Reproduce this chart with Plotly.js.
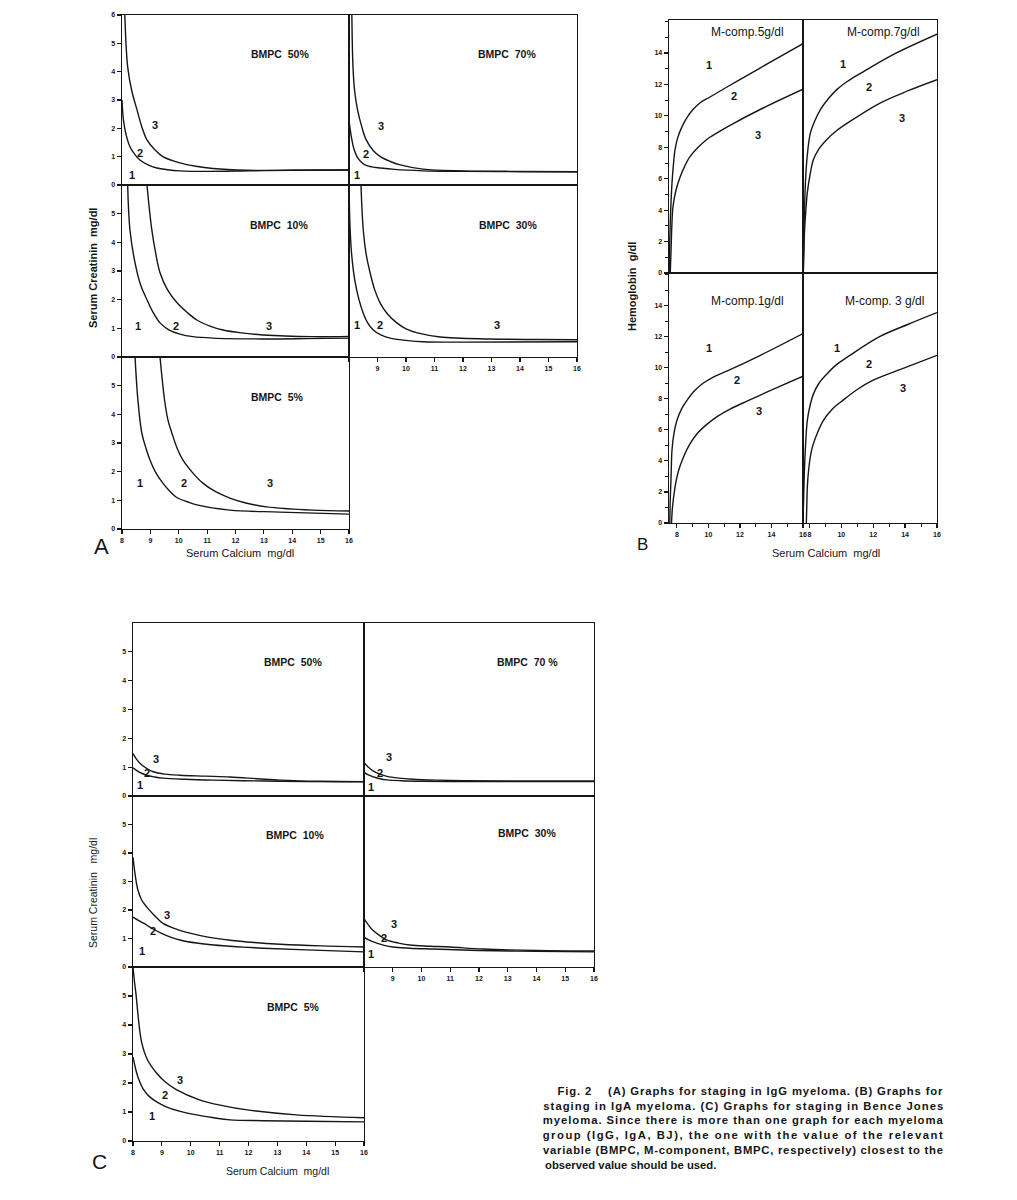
<!DOCTYPE html>
<html>
<head>
<meta charset="utf-8">
<script src="https://cdn.plot.ly/plotly-3.0.1.min.js"></script>
<style>html,body{margin:0;padding:0;background:#fff}#chart{width:1017px;height:1200px}</style>
</head>
<body>
<div id="chart"></div>
<script>
// ---------------- DATA ----------------
// Panel A (IgG myeloma): serum creatinin vs serum calcium, stage boundaries
const A50_b12_x = [8.0, 8.05, 8.15, 8.28, 8.45, 8.63, 8.9, 9.23, 9.6, 10.04, 11, 12.5, 14, 16];
const A50_b12_y = [3.0, 2.3, 1.75, 1.35, 1.08, 0.88, 0.72, 0.6, 0.54, 0.5, 0.48, 0.5, 0.52, 0.53];
const A50_b23_x = [8.1, 8.2, 8.35, 8.53, 8.7, 8.88, 9.15, 9.44, 10.04, 10.6, 11.2, 12.4, 14, 16];
const A50_b23_y = [6.0, 4.17, 3.3, 2.65, 2.05, 1.59, 1.25, 1.0, 0.78, 0.66, 0.58, 0.52, 0.52, 0.53];

const A70_b12_x = [8.0, 8.05, 8.1, 8.18, 8.28, 8.4, 8.56, 8.8, 9.1, 9.6, 10.6, 12, 14, 16];
const A70_b12_y = [2.3, 1.9, 1.6, 1.25, 1.0, 0.84, 0.71, 0.64, 0.6, 0.55, 0.5, 0.48, 0.47, 0.47];
const A70_b23_x = [8.1, 8.14, 8.2, 8.3, 8.45, 8.6, 8.85, 9.1, 9.45, 9.8, 10.6, 12, 14, 16];
const A70_b23_y = [6.0, 4.17, 3.3, 2.65, 2.05, 1.6, 1.22, 1.0, 0.83, 0.71, 0.56, 0.5, 0.48, 0.47];

const A10_b12_x = [8.2, 8.28, 8.46, 8.66, 8.88, 9.1, 9.34, 9.65, 10.04, 10.5, 11.2, 12.96, 14.5, 16];
const A10_b12_y = [6.0, 4.44, 3.28, 2.5, 2.0, 1.55, 1.19, 0.95, 0.8, 0.71, 0.66, 0.63, 0.64, 0.66];
const A10_b23_x = [8.88, 9.05, 9.2, 9.34, 9.6, 9.94, 10.3, 10.64, 11.1, 11.56, 12.2, 12.96, 14.7, 16];
const A10_b23_y = [6.0, 4.44, 3.55, 2.94, 2.35, 1.89, 1.55, 1.29, 1.08, 0.94, 0.84, 0.77, 0.71, 0.72];

const A30_b12_x = [8.0, 8.04, 8.1, 8.2, 8.35, 8.5, 8.65, 8.85, 9.1, 9.44, 10.0, 10.6, 12, 16];
const A30_b12_y = [6.0, 4.44, 3.5, 2.7, 2.0, 1.53, 1.2, 0.94, 0.78, 0.66, 0.58, 0.53, 0.52, 0.53];
const A30_b23_x = [8.42, 8.5, 8.6, 8.74, 8.9, 9.09, 9.35, 9.68, 10.0, 10.4, 11.2, 12.95, 14.5, 16];
const A30_b23_y = [6.0, 4.44, 3.6, 2.94, 2.35, 1.89, 1.5, 1.19, 0.98, 0.84, 0.7, 0.63, 0.61, 0.6];

const A5_b12_x = [8.46, 8.56, 8.7, 8.85, 8.99, 9.2, 9.44, 9.7, 9.93, 10.3, 10.64, 11.8, 13.56, 16];
const A5_b12_y = [6.0, 4.5, 3.34, 2.8, 2.4, 1.95, 1.6, 1.3, 1.1, 0.95, 0.84, 0.66, 0.59, 0.52];
const A5_b23_x = [9.34, 9.5, 9.62, 9.76, 9.95, 10.15, 10.5, 10.85, 11.3, 11.8, 12.4, 13.1, 14.7, 16];
const A5_b23_y = [6.0, 4.5, 3.8, 3.34, 2.8, 2.4, 1.95, 1.6, 1.3, 1.08, 0.9, 0.77, 0.66, 0.63];

// Panel B (IgA myeloma): hemoglobin vs serum calcium
const B5_b12_x = [7.52, 7.56, 7.62, 7.69, 7.78, 7.88, 8.05, 8.32, 8.65, 9.02, 9.5, 10.1, 11.8, 13.9, 16];
const B5_b12_y = [0, 2.55, 4.3, 5.73, 6.9, 7.83, 8.6, 9.3, 9.9, 10.4, 10.85, 11.2, 12.2, 13.4, 14.6];
const B5_b23_x = [7.58, 7.63, 7.68, 7.75, 7.95, 8.2, 8.5, 8.83, 9.3, 9.9, 10.6, 11.37, 13.47, 16];
const B5_b23_y = [0, 1.46, 3.0, 4.2, 5.3, 6.1, 6.8, 7.4, 7.95, 8.5, 8.95, 9.4, 10.5, 11.7];

const B7_b12_x = [7.6, 7.65, 7.7, 7.76, 7.86, 8.06, 8.35, 8.69, 9.2, 9.75, 10.4, 11.2, 13.25, 16];
const B7_b12_y = [0, 2.5, 4.2, 5.9, 7.4, 8.9, 9.7, 10.4, 11.1, 11.7, 12.2, 12.7, 13.9, 15.2];
const B7_b23_x = [7.62, 7.66, 7.69, 7.78, 7.87, 8.05, 8.25, 8.6, 9.1, 9.7, 10.4, 12.4, 14.2, 16];
const B7_b23_y = [0, 1.3, 2.55, 4.0, 5.1, 6.3, 7.2, 7.9, 8.5, 9.05, 9.55, 10.8, 11.6, 12.3];

const B1_b12_x = [7.55, 7.58, 7.63, 7.69, 7.82, 8.0, 8.3, 8.64, 9.1, 9.66, 10.4, 11.2, 13.3, 16];
const B1_b12_y = [0, 1.5, 2.95, 4.7, 5.8, 6.6, 7.35, 7.9, 8.5, 9.0, 9.45, 9.8, 10.8, 12.2];
const B1_b23_x = [7.66, 7.72, 7.88, 8.1, 8.4, 8.8, 9.28, 9.9, 10.55, 11.4, 12.45, 14.2, 16];
const B1_b23_y = [0, 1.0, 2.3, 3.35, 4.2, 5.05, 5.75, 6.35, 6.85, 7.35, 7.85, 8.65, 9.45];

const B3_b12_x = [7.6, 7.64, 7.69, 7.76, 7.87, 8.05, 8.25, 8.6, 9.1, 9.7, 10.4, 12.4, 14.2, 16];
const B3_b12_y = [0, 1.6, 3.4, 5.0, 6.6, 7.6, 8.3, 9.0, 9.6, 10.2, 10.7, 12.0, 12.8, 13.55];
const B3_b23_x = [7.81, 7.84, 7.87, 7.95, 8.05, 8.19, 8.5, 8.87, 9.4, 10.1, 11, 12, 14, 16];
const B3_b23_y = [0, 1.2, 2.3, 3.4, 4.2, 4.9, 5.8, 6.6, 7.3, 7.9, 8.6, 9.2, 10.0, 10.8];

// Panel C (Bence Jones myeloma): serum creatinin vs serum calcium
const C50_b12_x = [8.0, 8.2, 8.48, 8.75, 9.04, 9.8, 10.8, 12.5, 14, 16];
const C50_b12_y = [0.98, 0.84, 0.72, 0.66, 0.62, 0.58, 0.55, 0.52, 0.5, 0.49];
const C50_b23_x = [8.0, 8.12, 8.24, 8.45, 8.7, 9.1, 9.63, 10.5, 11.36, 12.3, 13.1, 14.5, 16];
const C50_b23_y = [1.47, 1.28, 1.14, 0.97, 0.84, 0.76, 0.72, 0.69, 0.66, 0.6, 0.55, 0.51, 0.5];

const C70_b12_x = [8.0, 8.15, 8.3, 8.55, 8.8, 9.3, 10, 11, 13, 16];
const C70_b12_y = [0.82, 0.73, 0.67, 0.6, 0.56, 0.53, 0.51, 0.5, 0.5, 0.5];
const C70_b23_x = [8.0, 8.15, 8.3, 8.55, 8.8, 9.2, 9.7, 10.5, 11.5, 13, 16];
const C70_b23_y = [1.15, 1.0, 0.88, 0.76, 0.68, 0.62, 0.58, 0.55, 0.53, 0.52, 0.52];

const C10_b12_x = [8.0, 8.2, 8.38, 8.65, 8.97, 9.3, 9.66, 10.2, 10.8, 11.6, 12.5, 14, 16];
const C10_b12_y = [1.75, 1.63, 1.53, 1.36, 1.19, 1.05, 0.94, 0.84, 0.77, 0.71, 0.66, 0.6, 0.53];
const C10_b23_x = [8.0, 8.08, 8.17, 8.3, 8.48, 8.75, 9.04, 9.5, 9.97, 10.6, 11.36, 12.2, 13.1, 14.5, 16];
const C10_b23_y = [3.85, 3.2, 2.7, 2.35, 2.1, 1.8, 1.53, 1.33, 1.19, 1.05, 0.94, 0.86, 0.8, 0.74, 0.7];

const C30_b12_x = [8.0, 8.2, 8.44, 8.7, 9.0, 9.6, 10.4, 12, 14, 16];
const C30_b12_y = [1.05, 0.93, 0.84, 0.76, 0.7, 0.66, 0.63, 0.58, 0.55, 0.53];
const C30_b23_x = [8.0, 8.15, 8.3, 8.55, 8.8, 9.2, 9.6, 10.3, 11, 12.15, 14, 16];
const C30_b23_y = [1.7, 1.48, 1.3, 1.1, 0.94, 0.84, 0.77, 0.73, 0.7, 0.63, 0.58, 0.56];

const C5_b12_x = [8.0, 8.1, 8.2, 8.35, 8.57, 8.85, 9.15, 9.6, 10.2, 10.8, 11.36, 12.5, 14, 16];
const C5_b12_y = [2.9, 2.45, 2.12, 1.8, 1.53, 1.33, 1.18, 1.03, 0.9, 0.8, 0.73, 0.7, 0.68, 0.66];
const C5_b23_x = [8.0, 8.05, 8.1, 8.2, 8.3, 8.5, 8.8, 9.1, 9.5, 10.3, 11.1, 11.9, 13.66, 16];
const C5_b23_y = [6.0, 5.5, 5.1, 4.1, 3.4, 2.8, 2.36, 2.05, 1.77, 1.42, 1.22, 1.08, 0.9, 0.8];

// Tick values / labels
const creatTicksTop = [0, 1, 2, 3, 4, 5, 6];
const creatTicks = [0, 1, 2, 3, 4, 5];
const calciumTicks = [8, 9, 10, 11, 12, 13, 14, 15, 16];
const calciumTicksNo8 = ['', '9', '10', '11', '12', '13', '14', '15', '16'];
const hbTicks = [0, 2, 4, 6, 8, 10, 12, 14];
const calciumTicksB = [8, 10, 12, 14, 16];

// Panel label texts (\u00a0 keeps the wide gaps of the original)
const panelTitles = {A50:'BMPC\u00a0\u00a050%', A70:'BMPC\u00a0\u00a070%', A10:'BMPC\u00a0\u00a010%', A30:'BMPC\u00a0\u00a030%', A5:'BMPC\u00a0\u00a05%',
  B5:'M-comp.5g/dl', B7:'M-comp.7g/dl', B1:'M-comp.1g/dl', B3:'M-comp. 3 g/dl',
  C50:'BMPC\u00a0\u00a050%', C70:'BMPC\u00a0\u00a070\u00a0%', C10:'BMPC\u00a0\u00a010%', C30:'BMPC\u00a0\u00a030%', C5:'BMPC\u00a0\u00a05%'};
const captionLines = [
  'Fig. 2\u00a0\u00a0\u00a0\u00a0(A) Graphs for staging in IgG myeloma. (B) Graphs for',
  'staging in IgA myeloma. (C) Graphs for staging in Bence Jones',
  'myeloma. Since there is more than one graph for each myeloma',
  'group (IgG, IgA, BJ), the one with the value of the relevant',
  'variable (BMPC, M-component, BMPC, respectively) closest to the',
  'observed value should be used.'
];

// ---------------- LAYOUT ----------------
const W = 1017, H = 1200;
const px = v => v / W;
const py = v => 1 - v / H;
const INK = '#161616';
const FAM = 'Liberation Sans, Arial, sans-serif';
const tickFont = {family: FAM, size: 7, color: INK, weight: 'bold'};

// box: [left, right, top, bottom] in pixels
const panels = [
  {k:'A50', box:[122,349,15,185], xr:[8,16], yr:[0,6], yt:creatTicksTop, xlab:false, data:[A50_b12_x,A50_b12_y,A50_b23_x,A50_b23_y],
   nums:[[132,175,'1'],[140,153,'2'],[155,125,'3']], title:[280,54]},
  {k:'A70', box:[349,577,15,185], xr:[8,16], yr:[0,6], yt:null, xlab:false, data:[A70_b12_x,A70_b12_y,A70_b23_x,A70_b23_y],
   nums:[[357,175,'1'],[366,154,'2'],[381,126,'3']], title:[507,54]},
  {k:'A10', box:[122,349,185,357], xr:[8,16], yr:[0,6], yt:creatTicks, xlab:false, data:[A10_b12_x,A10_b12_y,A10_b23_x,A10_b23_y],
   nums:[[138,326,'1'],[176,326,'2'],[269,326,'3']], title:[279,225]},
  {k:'A30', box:[349,577,185,357], xr:[8,16], yr:[0,6], yt:null, xlab:'no8', data:[A30_b12_x,A30_b12_y,A30_b23_x,A30_b23_y],
   nums:[[357,325,'1'],[380,325,'2'],[497,325,'3']], title:[508,225]},
  {k:'A5', box:[122,349,357,529], xr:[8,16], yr:[0,6], yt:creatTicks, xlab:'all', data:[A5_b12_x,A5_b12_y,A5_b23_x,A5_b23_y],
   nums:[[140,483,'1'],[184,483,'2'],[270,483,'3']], title:[277,397]},

  {k:'B5', box:[669,803,20,273], xr:[7.5,16], yr:[0,16.1], yt:'hb', xlab:false, data:[B5_b12_x,B5_b12_y,B5_b23_x,B5_b23_y],
   nums:[[709,65,'1'],[734,96,'2'],[758,135,'3']], title:[747,32], B:true},
  {k:'B7', box:[803,937,20,273], xr:[7.6,16], yr:[0,16.1], yt:null, xlab:false, data:[B7_b12_x,B7_b12_y,B7_b23_x,B7_b23_y],
   nums:[[843,64,'1'],[869,87,'2'],[902,118,'3']], title:[883,32], B:true},
  {k:'B1', box:[669,803,273,523], xr:[7.5,16], yr:[0,16.1], yt:'hb', xlab:'B', data:[B1_b12_x,B1_b12_y,B1_b23_x,B1_b23_y],
   nums:[[709,348,'1'],[737,380,'2'],[759,411,'3']], title:[747,301], B:true},
  {k:'B3', box:[803,937,273,523], xr:[7.6,16], yr:[0,16.1], yt:null, xlab:'B', data:[B3_b12_x,B3_b12_y,B3_b23_x,B3_b23_y],
   nums:[[837,348,'1'],[869,364,'2'],[903,388,'3']], title:[884,301], B:true},

  {k:'C50', box:[133,364,623,796], xr:[8,16], yr:[0,6], yt:creatTicks, xlab:false, data:[C50_b12_x,C50_b12_y,C50_b23_x,C50_b23_y],
   nums:[[140,785,'1'],[147,773,'2'],[156,759,'3']], title:[293,662]},
  {k:'C70', box:[364,594,623,796], xr:[8,16], yr:[0,6], yt:null, xlab:false, data:[C70_b12_x,C70_b12_y,C70_b23_x,C70_b23_y],
   nums:[[371,787,'1'],[380,773,'2'],[389,757,'3']], title:[527,662]},
  {k:'C10', box:[133,364,796,967], xr:[8,16], yr:[0,6], yt:creatTicks, xlab:false, data:[C10_b12_x,C10_b12_y,C10_b23_x,C10_b23_y],
   nums:[[142,951,'1'],[153,931,'2'],[167,915,'3']], title:[295,835]},
  {k:'C30', box:[364,594,796,967], xr:[8,16], yr:[0,6], yt:null, xlab:'no8', data:[C30_b12_x,C30_b12_y,C30_b23_x,C30_b23_y],
   nums:[[371,954,'1'],[384,938,'2'],[394,924,'3']], title:[527,833]},
  {k:'C5', box:[133,364,967,1141], xr:[8,16], yr:[0,6], yt:creatTicks, xlab:'all', data:[C5_b12_x,C5_b12_y,C5_b23_x,C5_b23_y],
   nums:[[152,1116,'1'],[165,1095,'2'],[180,1080,'3']], title:[293,1007]}
];

const traces = [];
const layout = {
  width: W, height: H,
  margin: {l:0, r:0, t:0, b:0},
  paper_bgcolor: '#ffffff', plot_bgcolor: 'rgba(0,0,0,0)',
  showlegend: false,
  annotations: [],
  font: {family: FAM, color: INK}
};

panels.forEach((p, i) => {
  const n = i + 1;
  const xa = 'xaxis' + (n === 1 ? '' : n), ya = 'yaxis' + (n === 1 ? '' : n);
  const xr = 'x' + (n === 1 ? '' : n), yr = 'y' + (n === 1 ? '' : n);
  const [l, r, t, b] = p.box;
  const base = {showline: true, mirror: true, linecolor: INK, linewidth: 1.4,
    showgrid: false, zeroline: false, fixedrange: true, ticks: '', showticklabels: false, tickfont: tickFont};
  const X = Object.assign({domain: [px(l), px(r)], range: p.xr, anchor: yr}, base);
  const Y = Object.assign({domain: [py(b), py(t)], range: p.yr, anchor: xr}, base);
  const tk = {ticks:'outside', ticklen:4, tickwidth:1.2, tickcolor:INK, showticklabels:true, tickmode:'array'};
  if (p.yt === 'hb') {
    Object.assign(Y, tk, {tickvals: hbTicks, ticktext: hbTicks.map(String),
      minor:{tickmode:'linear', tick0:0, dtick:1, ticks:'outside', ticklen:3, tickwidth:1, tickcolor:INK}});
  } else if (p.yt) {
    Object.assign(Y, tk, {tickvals: p.yt, ticktext: p.yt.map(String)});
  }
  if (p.xlab === 'all') {
    Object.assign(X, tk, {tickvals: calciumTicks, ticktext: calciumTicks.map(String)});
  } else if (p.xlab === 'no8') {
    Object.assign(X, tk, {tickvals: calciumTicks, ticktext: calciumTicksNo8});
  } else if (p.xlab === 'B') {
    Object.assign(X, tk, {tickvals: calciumTicksB, ticktext: calciumTicksB.map(String),
      minor:{tickmode:'linear', tick0:8, dtick:1, ticks:'outside', ticklen:3, tickwidth:1, tickcolor:INK}});
  }
  layout[xa] = X; layout[ya] = Y;

  const [x1, y1, x2, y2] = p.data;
  [[x1, y1], [x2, y2]].forEach(([xs, ys]) => {
    traces.push({type:'scatter', mode:'lines', x: xs, y: ys, xaxis: xr, yaxis: yr,
      line: {color: INK, width: 1.4, shape: 'spline', smoothing: 1.0}, hoverinfo: 'skip', cliponaxis: true});
  });

  p.nums.forEach(([ax, ay, txt]) => {
    layout.annotations.push({xref:'paper', yref:'paper', x: px(ax), y: py(ay), text: txt, showarrow:false,
      xanchor:'center', yanchor:'middle', font:{family:FAM, size:11, color:INK, weight:'bold'}});
  });
  layout.annotations.push({xref:'paper', yref:'paper', x: px(p.title[0]), y: py(p.title[1]), text: panelTitles[p.k], showarrow:false,
    xanchor:'center', yanchor:'middle',
    font: p.B ? {family:FAM, size:12, color:INK} : {family:FAM, size:10.5, color:INK, weight:'bold'}});
});

// Axis titles and group letters
const addText = (x, y, text, font, extra) => layout.annotations.push(Object.assign({xref:'paper', yref:'paper', x: px(x), y: py(y), text, showarrow:false, xanchor:'center', yanchor:'middle', font}, extra || {}));
addText(93, 268, 'Serum Creatinin\u00a0\u00a0mg/dl', {family:FAM, size:11, color:INK, weight:'bold'}, {textangle:-90});
addText(240, 553, 'Serum Calcium\u00a0\u00a0mg/dl', {family:FAM, size:11, color:INK});
addText(632, 287, 'Hemoglobin\u00a0\u00a0g/dl', {family:FAM, size:11, color:INK, weight:'bold'}, {textangle:-90});
addText(826, 553, 'Serum Calcium\u00a0\u00a0mg/dl', {family:FAM, size:11, color:INK});
addText(93, 893, 'Serum Creatinin\u00a0\u00a0\u00a0mg/dl', {family:FAM, size:10.5, color:INK}, {textangle:-90});
addText(277, 1171, 'Serum Calcium\u00a0\u00a0mg/dl', {family:FAM, size:10.5, color:INK});
addText(101, 546, 'A', {family:FAM, size:22, color:INK});
addText(642, 545, 'B', {family:FAM, size:17, color:INK});
addText(99, 1161, 'C', {family:FAM, size:21, color:INK});

// Caption: justified lines are centred on their span and stretched to it after drawing
const capStart = layout.annotations.length;
const capY = [1091, 1106, 1120, 1135, 1150, 1165];
const capLeft = [558, 543, 543, 543, 543, 543];
const capRight = 943;
captionLines.forEach((line, i) => {
  const last = i === captionLines.length - 1;
  layout.annotations.push({xref:'paper', yref:'paper', x: px(last ? capLeft[i] : (capLeft[i] + capRight) / 2), y: py(capY[i]), text: line, showarrow:false,
    xanchor: last ? 'left' : 'center', yanchor:'middle', font:{family:FAM, size:11.3, color:INK, weight:'bold'}});
});

Plotly.newPlot('chart', traces, layout, {staticPlot: true, displayModeBar: false}).then(gd => {
  gd.querySelectorAll('.annotation').forEach(node => {
    const idx = +node.getAttribute('data-index');
    const li = idx - capStart;
    if (li >= 0 && li < captionLines.length - 1) {
      const t = node.querySelector('text.annotation-text');
      if (t) { t.setAttribute('textLength', String(capRight - capLeft[li])); t.setAttribute('lengthAdjust', 'spacing'); }
    }
  });
});
</script>
</body>
</html>
